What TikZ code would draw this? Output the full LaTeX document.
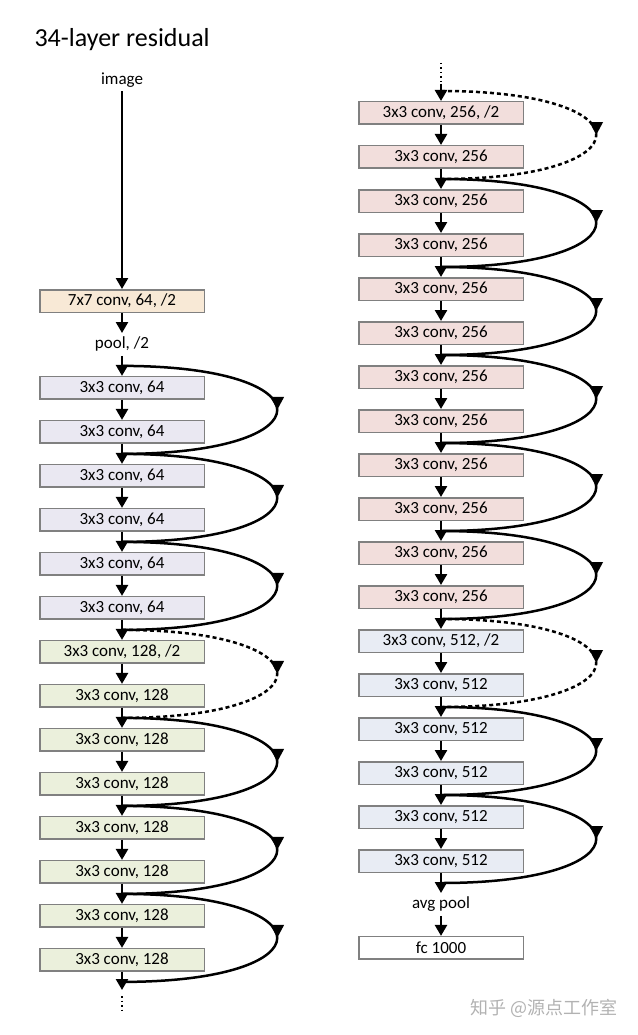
\documentclass[tikz,border=0pt]{standalone}
\usepackage{fontspec}
\setmainfont{Carlito}
\newfontfamily\cjk{Noto Sans CJK SC}
\usepackage{tikz}
\usetikzlibrary{positioning,calc,arrows.meta,decorations.markings}

\definecolor{peach}{RGB}{248,233,214}
\definecolor{lavender}{RGB}{234,232,242}
\definecolor{olive}{RGB}{235,240,220}
\definecolor{rose}{RGB}{242,222,220}
\definecolor{steel}{RGB}{232,236,244}

\begin{document}
\begin{tikzpicture}
		\tikzstyle{main}=[rectangle, minimum width=164.5pt, minimum height=22.5pt, line width=1.5pt, draw=black!50, text=black, font=\fontsize{17}{19}\selectfont, inner sep=2pt, node distance=20pt]
		\tikzstyle{plain}=[minimum height=22.5pt, text=black, font=\fontsize{17}{19}\selectfont, inner sep=2pt, node distance=20pt]
		\tikzstyle{connect}=[-{Triangle[length=11pt,width=12pt]}, line width=2.5pt]
		\tikzstyle{skip}=[line width=2.5pt, to path={.. controls +(207pt,0) and +(207pt,0) .. (\tikztotarget)}, postaction={decorate}, decoration={markings, mark=at position 0.5 with {\arrow{Triangle[length=13pt,width=13pt]}}}]
		\tikzstyle{proj}=[skip, dash pattern=on 4pt off 3pt]
		\tikzstyle{dotline}=[line width=1.5pt, dash pattern=on 1.5pt off 3pt]
		\useasboundingbox (0,0) rectangle (637pt,-1035pt);
		
		\node[anchor=west, font=\fontsize{26}{30}\selectfont] (title) at (31pt,-40pt) {34-layer residual};
		
		% left column
		\node[plain] (image) at (122pt,-80pt) {image};
		\node[main, fill=peach] (conv1) at (122pt,-301pt) {7x7 conv, 64, /2};
		\node[plain] (pool) [below=of conv1] {pool, /2};
		\node[main, fill=lavender] (a1) [below=of pool] {3x3 conv, 64};
		\node[main, fill=lavender] (a2) [below=of a1] {3x3 conv, 64};
		\node[main, fill=lavender] (a3) [below=of a2] {3x3 conv, 64};
		\node[main, fill=lavender] (a4) [below=of a3] {3x3 conv, 64};
		\node[main, fill=lavender] (a5) [below=of a4] {3x3 conv, 64};
		\node[main, fill=lavender] (a6) [below=of a5] {3x3 conv, 64};
		\node[main, fill=olive] (b1) [below=of a6] {3x3 conv, 128, /2};
		\node[main, fill=olive] (b2) [below=of b1] {3x3 conv, 128};
		\node[main, fill=olive] (b3) [below=of b2] {3x3 conv, 128};
		\node[main, fill=olive] (b4) [below=of b3] {3x3 conv, 128};
		\node[main, fill=olive] (b5) [below=of b4] {3x3 conv, 128};
		\node[main, fill=olive] (b6) [below=of b5] {3x3 conv, 128};
		\node[main, fill=olive] (b7) [below=of b6] {3x3 conv, 128};
		\node[main, fill=olive] (b8) [below=of b7] {3x3 conv, 128};
		\coordinate (lout) at (122pt,-990pt);
		\coordinate (ldots) at (122pt,-1012pt);
		
		% right column
		\coordinate (rtop) at (441pt,-63pt);
		\coordinate (rin) at (441pt,-84pt);
		\node[main, fill=rose] (c1) at (441pt,-113pt) {3x3 conv, 256, /2};
		\node[main, fill=rose] (c2) [below=of c1] {3x3 conv, 256};
		\node[main, fill=rose] (c3) [below=of c2] {3x3 conv, 256};
		\node[main, fill=rose] (c4) [below=of c3] {3x3 conv, 256};
		\node[main, fill=rose] (c5) [below=of c4] {3x3 conv, 256};
		\node[main, fill=rose] (c6) [below=of c5] {3x3 conv, 256};
		\node[main, fill=rose] (c7) [below=of c6] {3x3 conv, 256};
		\node[main, fill=rose] (c8) [below=of c7] {3x3 conv, 256};
		\node[main, fill=rose] (c9) [below=of c8] {3x3 conv, 256};
		\node[main, fill=rose] (c10) [below=of c9] {3x3 conv, 256};
		\node[main, fill=rose] (c11) [below=of c10] {3x3 conv, 256};
		\node[main, fill=rose] (c12) [below=of c11] {3x3 conv, 256};
		\node[main, fill=steel] (d1) [below=of c12] {3x3 conv, 512, /2};
		\node[main, fill=steel] (d2) [below=of d1] {3x3 conv, 512};
		\node[main, fill=steel] (d3) [below=of d2] {3x3 conv, 512};
		\node[main, fill=steel] (d4) [below=of d3] {3x3 conv, 512};
		\node[main, fill=steel] (d5) [below=of d4] {3x3 conv, 512};
		\node[main, fill=steel] (d6) [below=of d5] {3x3 conv, 512};
		\node[plain] (avgpool) [below=of d6] {avg pool};
		\node[main, fill=white] (fc) [below=of avgpool] {fc 1000};
		
		\node[text=black!30, font=\cjk\fontsize{18}{21}\selectfont] (mark) at (544pt,-1008pt) {知乎 @源点工作室};
		
		% junctions of the shortcuts
		\coordinate (ja0) at ($(pool.south)!0.5!(a1.north)$);
		\coordinate (ja1) at ($(a2.south)!0.5!(a3.north)$);
		\coordinate (ja2) at ($(a4.south)!0.5!(a5.north)$);
		\coordinate (ja3) at ($(a6.south)!0.5!(b1.north)$);
		\coordinate (jb1) at ($(b2.south)!0.5!(b3.north)$);
		\coordinate (jb2) at ($(b4.south)!0.5!(b5.north)$);
		\coordinate (jb3) at ($(b6.south)!0.5!(b7.north)$);
		\coordinate (jb4) at ($(b8.south)+(0,-10pt)$);
		\coordinate (jc0) at ($(c1.north)+(0,10pt)$);
		\coordinate (jc1) at ($(c2.south)!0.5!(c3.north)$);
		\coordinate (jc2) at ($(c4.south)!0.5!(c5.north)$);
		\coordinate (jc3) at ($(c6.south)!0.5!(c7.north)$);
		\coordinate (jc4) at ($(c8.south)!0.5!(c9.north)$);
		\coordinate (jc5) at ($(c10.south)!0.5!(c11.north)$);
		\coordinate (jc6) at ($(c12.south)!0.5!(d1.north)$);
		\coordinate (jd1) at ($(d2.south)!0.5!(d3.north)$);
		\coordinate (jd2) at ($(d4.south)!0.5!(d5.north)$);
		\coordinate (jd3) at ($(d6.south)!0.5!(avgpool.north)$);
		
		\path (image) edge [connect] (conv1);
		\path (conv1) edge [connect] (pool);
		\path (pool) edge [connect] (a1);
		\path (a1) edge [connect] (a2);
		\path (a2) edge [connect] (a3);
		\path (a3) edge [connect] (a4);
		\path (a4) edge [connect] (a5);
		\path (a5) edge [connect] (a6);
		\path (a6) edge [connect] (b1);
		\path (b1) edge [connect] (b2);
		\path (b2) edge [connect] (b3);
		\path (b3) edge [connect] (b4);
		\path (b4) edge [connect] (b5);
		\path (b5) edge [connect] (b6);
		\path (b6) edge [connect] (b7);
		\path (b7) edge [connect] (b8);
		\path (b8) edge [connect] (lout);
		\draw[dotline] ($(lout)+(0,-6pt)$) -- (ldots);
		
		\draw[dotline] (rtop) -- (rin);
		\path (rin) edge [connect] (c1);
		\path (c1) edge [connect] (c2);
		\path (c2) edge [connect] (c3);
		\path (c3) edge [connect] (c4);
		\path (c4) edge [connect] (c5);
		\path (c5) edge [connect] (c6);
		\path (c6) edge [connect] (c7);
		\path (c7) edge [connect] (c8);
		\path (c8) edge [connect] (c9);
		\path (c9) edge [connect] (c10);
		\path (c10) edge [connect] (c11);
		\path (c11) edge [connect] (c12);
		\path (c12) edge [connect] (d1);
		\path (d1) edge [connect] (d2);
		\path (d2) edge [connect] (d3);
		\path (d3) edge [connect] (d4);
		\path (d4) edge [connect] (d5);
		\path (d5) edge [connect] (d6);
		\path (d6) edge [connect] (avgpool);
		\path (avgpool) edge [connect] (fc);
		
		% shortcuts
		\path (ja0) edge [skip] (ja1);
		\path (ja1) edge [skip] (ja2);
		\path (ja2) edge [skip] (ja3);
		\path (ja3) edge [proj] (jb1);
		\path (jb1) edge [skip] (jb2);
		\path (jb2) edge [skip] (jb3);
		\path (jb3) edge [skip] (jb4);
		
		\path (jc0) edge [proj] (jc1);
		\path (jc1) edge [skip] (jc2);
		\path (jc2) edge [skip] (jc3);
		\path (jc3) edge [skip] (jc4);
		\path (jc4) edge [skip] (jc5);
		\path (jc5) edge [skip] (jc6);
		\path (jc6) edge [proj] (jd1);
		\path (jd1) edge [skip] (jd2);
		\path (jd2) edge [skip] (jd3);
	\end{tikzpicture}
\end{document}
